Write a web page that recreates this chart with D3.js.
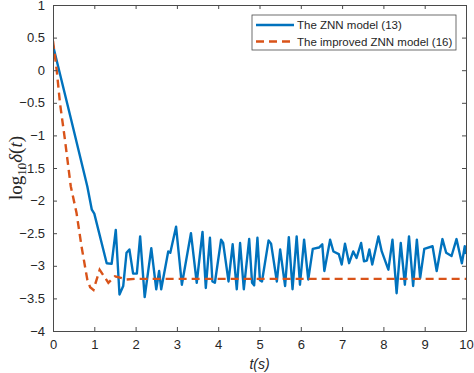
<!DOCTYPE html>
<html>
<head>
<meta charset="utf-8">
<script src="https://cdn.jsdelivr.net/npm/d3@7"></script>
<style>
  body { margin: 0; background: #fff; }
  svg { display: block; }
  text { font-family: "Liberation Sans", Arial, sans-serif; fill: #262626; }
</style>
</head>
<body>
<svg id="chart" width="474" height="373"></svg>
<script>
// ZNN model (13)
var znnT = [0.00, 0.44, 0.83, 0.94, 1.00, 1.30, 1.42, 1.52, 1.61, 1.70, 1.78, 1.85, 1.94, 2.03, 2.11, 2.22,
  2.38, 2.50, 2.57, 2.62, 2.79, 2.84, 2.98, 3.12, 3.34, 3.48, 3.62, 3.70, 3.80, 3.86, 3.92, 4.07, 4.12,
  4.25, 4.35, 4.45, 4.53, 4.62, 4.75, 4.82, 4.87, 4.95, 5.01, 5.06, 5.22, 5.28, 5.42, 5.50, 5.62, 5.71,
  5.80, 5.90, 5.98, 6.08, 6.18, 6.29, 6.44, 6.52, 6.57, 6.71, 6.79, 6.92, 6.99, 7.07, 7.17, 7.27, 7.35,
  7.46, 7.53, 7.60, 7.66, 7.73, 7.88, 7.96, 8.12, 8.22, 8.32, 8.42, 8.52, 8.62, 8.72, 8.81, 8.89, 8.99,
  9.19, 9.29, 9.43, 9.52, 9.65, 9.77, 9.90, 9.97, 10.0];
var znnY = [0.38, -0.76, -1.78, -2.14, -2.20, -2.96, -2.97, -2.45, -3.44, -3.31, -2.80, -2.75, -3.12, -3.12, -2.55, -3.48,
  -2.73, -3.36, -3.08, -3.36, -2.78, -2.80, -2.40, -3.29, -2.50, -3.26, -2.48, -3.34, -2.57, -3.24, -3.26, -2.60, -2.65,
  -3.24, -2.67, -3.36, -2.65, -3.36, -2.59, -3.26, -3.30, -2.57, -3.22, -3.24, -2.61, -2.66, -3.24, -2.75, -3.31, -2.56,
  -3.36, -2.55, -3.29, -2.60, -3.21, -2.74, -2.72, -2.67, -3.08, -2.60, -2.78, -2.82, -2.98, -2.66, -2.96, -2.78, -2.88,
  -2.65, -2.93, -2.92, -2.75, -2.98, -2.55, -2.78, -3.06, -2.60, -3.42, -2.65, -3.29, -2.55, -3.31, -2.60, -3.19, -2.74,
  -2.70, -3.08, -2.59, -2.80, -2.85, -2.59, -2.96, -2.70, -2.82];

// improved ZNN model (16)
var impT = [0.00, 0.09, 0.17, 0.29, 0.43, 0.57, 0.69, 0.83, 0.90, 0.98, 1.13, 1.34, 1.50, 1.78, 2.0, 10.0];
var impY = [0.45, 0.00, -0.51, -1.07, -1.78, -2.19, -2.70, -3.21, -3.33, -3.37, -3.06, -3.26, -3.16, -3.21, -3.20, -3.20];

var xTicks = [0, 1, 2, 3, 4, 5, 6, 7, 8, 9, 10];
var yTicks = [1, 0.5, 0, -0.5, -1, -1.5, -2, -2.5, -3, -3.5, -4];
var legendLabels = ["The ZNN model (13)", "The improved ZNN model (16)"];

var BLUE = "#0072BD", ORANGE = "#D95319", AXIS = "#4a4a4a";
var padL = 53, padR = 466, padT = 5, padB = 331;

var svg = d3.select("#chart");

var x = d3.scaleLinear().domain([0, 10]).range([padL, padR]);
var y = d3.scaleLinear().domain([-4, 1]).range([padB, padT]);

function zipPts(ts, ys){
  return ts.map(function(t, i){ return [t, ys[i]]; });
}

var line = d3.line()
  .x(d => x(d[0]))
  .y(d => y(d[1]));

// plot area clip
svg.append("defs").append("clipPath").attr("id", "clip")
  .append("rect")
  .attr("x", padL).attr("y", padT)
  .attr("width", padR - padL).attr("height", padB - padT);

var plot = svg.append("g").attr("clip-path", "url(#clip)");

plot.append("path")
  .datum(zipPts(znnT, znnY))
  .attr("d", line)
  .attr("fill", "none")
  .attr("stroke", BLUE)
  .attr("stroke-width", 2.4)
  .attr("stroke-linejoin", "round");

plot.append("path")
  .datum(zipPts(impT, impY))
  .attr("d", line)
  .attr("fill", "none")
  .attr("stroke", ORANGE)
  .attr("stroke-width", 2.4)
  .attr("stroke-dasharray", "8,5");

// axes, MATLAB style box with inner ticks
var TICK = 4;
svg.append("g")
  .attr("transform", "translate(0," + padB + ")")
  .call(d3.axisBottom(x).tickValues(xTicks).tickSizeInner(-TICK).tickSizeOuter(0).tickPadding(9))
  .call(g => g.select(".domain").attr("stroke", AXIS))
  .call(g => g.selectAll(".tick line").attr("stroke", AXIS))
  .call(g => g.selectAll(".tick text").attr("font-size", 13).attr("font-family", "Liberation Sans, Arial, sans-serif").attr("fill", "#262626"));

svg.append("g")
  .attr("transform", "translate(" + padL + ",0)")
  .call(d3.axisLeft(y).tickValues(yTicks).tickFormat(d3.format("")).tickSizeInner(-TICK).tickSizeOuter(0).tickPadding(8))
  .call(g => g.select(".domain").attr("stroke", AXIS))
  .call(g => g.selectAll(".tick line").attr("stroke", AXIS))
  .call(g => g.selectAll(".tick text").attr("font-size", 13).attr("font-family", "Liberation Sans, Arial, sans-serif").attr("fill", "#262626"));

svg.append("g")
  .attr("transform", "translate(0," + padT + ")")
  .call(d3.axisTop(x).tickValues(xTicks).tickFormat("").tickSizeInner(-TICK).tickSizeOuter(0))
  .call(g => g.select(".domain").attr("stroke", AXIS))
  .call(g => g.selectAll(".tick line").attr("stroke", AXIS));

svg.append("g")
  .attr("transform", "translate(" + padR + ",0)")
  .call(d3.axisRight(y).tickValues(yTicks).tickFormat("").tickSizeInner(-TICK).tickSizeOuter(0))
  .call(g => g.select(".domain").attr("stroke", AXIS))
  .call(g => g.selectAll(".tick line").attr("stroke", AXIS));

// x label
svg.append("text")
  .attr("x", (padL + padR) / 2)
  .attr("y", 369)
  .attr("text-anchor", "middle")
  .attr("font-size", 14)
  .attr("font-style", "italic")
  .text("t(s)");

// y label: log10 delta(t)
var yl = svg.append("text")
  .attr("transform", "translate(22," + ((padT + padB) / 2) + ") rotate(-90)")
  .attr("text-anchor", "middle")
  .style("font-family", "'Liberation Serif', 'DejaVu Serif', serif")
  .attr("font-size", 19);
yl.append("tspan").text("log");
yl.append("tspan").attr("font-size", 13).attr("dy", 4).text("10");
yl.append("tspan").attr("dy", -4).attr("font-style", "italic").text("δ");
yl.append("tspan").text("(");
yl.append("tspan").attr("font-style", "italic").text("t");
yl.append("tspan").text(")");

// legend
var lg = svg.append("g");
lg.append("rect")
  .attr("x", 252).attr("y", 15)
  .attr("width", 204).attr("height", 35)
  .attr("fill", "#fff")
  .attr("stroke", AXIS)
  .attr("stroke-width", 0.8);

var legendRows = lg.selectAll(".lrow")
  .data(legendLabels)
  .enter()
  .append("g")
  .attr("class", "lrow")
  .attr("transform", (d, i) => "translate(256," + (25 + i * 16.5) + ")");

legendRows.append("line")
  .attr("x1", 0).attr("x2", 38)
  .attr("stroke", (d, i) => i == 0 ? BLUE : ORANGE)
  .attr("stroke-width", 2.4)
  .attr("stroke-dasharray", (d, i) => i == 0 ? null : "8,5");

legendRows.append("text")
  .attr("x", 41)
  .attr("dy", "0.35em")
  .attr("font-size", 11.5)
  .text(d => d);
</script>
</body>
</html>
